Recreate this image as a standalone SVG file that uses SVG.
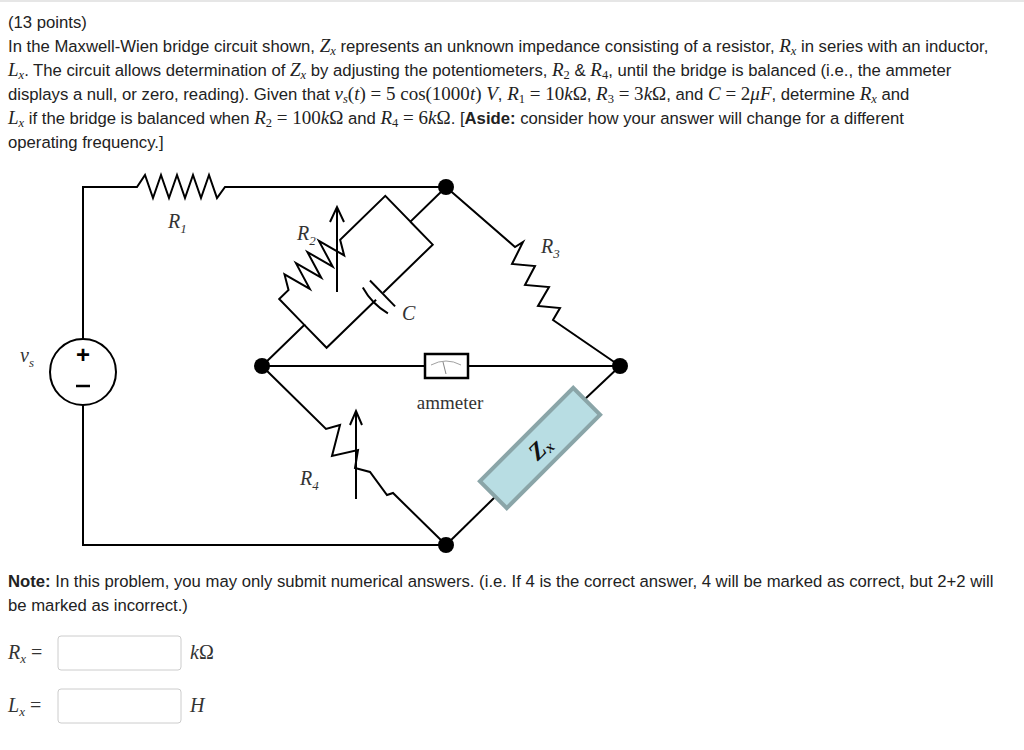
<svg xmlns="http://www.w3.org/2000/svg" width="1024" height="750" viewBox="0 0 1024 750">
<style>
.t{font-family:"Liberation Sans",Arial,sans-serif;font-size:16.7px;fill:#222}
.m{font-family:"Liberation Serif","Times New Roman",serif;font-style:italic;font-size:19px}
.r{font-family:"Liberation Serif","Times New Roman",serif;font-size:19px}
.s{font-size:12.5px}
.w{fill:none;stroke:#000;stroke-width:2}
.lbl{font-family:"Liberation Serif","Times New Roman",serif;font-style:italic;font-size:20px;fill:#333}
.box{fill:#fff;stroke:#ccc;stroke-width:1}
</style>
<rect width="1024" height="750" fill="#fff"/>
<rect x="0" y="0" width="1024" height="2" fill="#e6e6e6"/>
<g id="text">
<text class="t" x="8" y="28">(13 points)</text>
<text class="t" x="8" y="52">In the Maxwell-Wien bridge circuit shown, <tspan class="m">Z<tspan class="s" dy="3">x</tspan></tspan><tspan dy="-3"> represents an unknown impedance consisting of a resistor, </tspan><tspan class="m">R<tspan class="s" dy="3">x</tspan></tspan><tspan dy="-3"> in series with an inductor,</tspan></text>
<text class="t" x="8" y="76"><tspan class="m">L<tspan class="s" dy="3">x</tspan></tspan><tspan dy="-3">. The circuit allows determination of </tspan><tspan class="m">Z<tspan class="s" dy="3">x</tspan></tspan><tspan dy="-3"> by adjusting the potentiometers, </tspan><tspan class="m">R</tspan><tspan class="r s" dy="3">2</tspan><tspan dy="-3"> &amp; </tspan><tspan class="m">R</tspan><tspan class="r s" dy="3">4</tspan><tspan dy="-3">, until the bridge is balanced (i.e., the ammeter</tspan></text>
<text class="t" x="8" y="100">displays a null, or zero, reading). Given that <tspan class="m">v<tspan class="s" dy="3">s</tspan></tspan><tspan class="r" dy="-3">(<tspan class="m">t</tspan>) = 5 cos(1000<tspan class="m">t</tspan>) <tspan class="m">V</tspan></tspan>, <tspan class="m">R</tspan><tspan class="r s" dy="3">1</tspan><tspan class="r" dy="-3"> = 10<tspan class="m">k</tspan>Ω</tspan>, <tspan class="m">R</tspan><tspan class="r s" dy="3">3</tspan><tspan class="r" dy="-3"> = 3<tspan class="m">k</tspan>Ω</tspan>, and <tspan class="m">C</tspan><tspan class="r"> = 2<tspan class="m">μF</tspan></tspan>, determine <tspan class="m">R<tspan class="s" dy="3">x</tspan></tspan><tspan dy="-3"> and</tspan></text>
<text class="t" x="8" y="124"><tspan class="m">L<tspan class="s" dy="3">x</tspan></tspan><tspan dy="-3"> if the bridge is balanced when </tspan><tspan class="m">R</tspan><tspan class="r s" dy="3">2</tspan><tspan class="r" dy="-3"> = 100<tspan class="m">k</tspan>Ω</tspan> and <tspan class="m">R</tspan><tspan class="r s" dy="3">4</tspan><tspan class="r" dy="-3"> = 6<tspan class="m">k</tspan>Ω</tspan>. [<tspan font-weight="bold">Aside:</tspan> consider how your answer will change for a different</text>
<text class="t" x="8" y="148">operating frequency.]</text>
<text class="t" x="8" y="587"><tspan font-weight="bold">Note:</tspan> In this problem, you may only submit numerical answers. (i.e. If 4 is the correct answer, 4 will be marked as correct, but 2+2 will</text>
<text class="t" x="8" y="611">be marked as incorrect.)</text>
<text x="8" y="659" font-family="Liberation Serif,serif" font-size="20" fill="#333"><tspan font-style="italic">R</tspan><tspan font-style="italic" font-size="13" dy="4">x</tspan><tspan dy="-4"> =</tspan></text>
<rect class="box" x="58" y="636" width="123" height="34" rx="3"/>
<text x="190" y="659" font-family="Liberation Serif,serif" font-size="20" fill="#333"><tspan font-style="italic">k</tspan>Ω</text>
<text x="8" y="712" font-family="Liberation Serif,serif" font-size="20" fill="#333"><tspan font-style="italic">L</tspan><tspan font-style="italic" font-size="13" dy="4">x</tspan><tspan dy="-4"> =</tspan></text>
<rect class="box" x="58" y="689" width="123" height="34" rx="3"/>
<text x="190" y="712" font-family="Liberation Serif,serif" font-style="italic" font-size="20" fill="#333">H</text>
</g>
<g id="circuit">
<g id="connectors">
<polyline class="w" points="130,187 83,187 83,339"/>
<polyline class="w" points="83,405 83,545 446,545"/>
<polyline class="w" points="230,187 446,187"/>
<line class="w" x1="262" y1="366" x2="425" y2="366"/>
<line class="w" x1="468" y1="366" x2="620" y2="366"/>
</g>
<g id="R1">
<polyline class="w" points="130,187 137,187 145,175 153,198 161,175 169,198 177,175 185,198 193,175 201,198 209,175 217,198 225,187 230,187"/>
<text class="lbl" x="168" y="228">R<tspan font-size="13" dy="5">1</tspan></text>
</g>
<g id="vs">
<circle cx="83" cy="372" r="33" fill="#fff" stroke="#000" stroke-width="2"/>
<text x="83" y="363" font-family="Liberation Sans,sans-serif" font-size="24" text-anchor="middle" font-weight="bold">+</text>
<line x1="76" y1="386" x2="90" y2="386" stroke="#000" stroke-width="2.5"/>
<text class="lbl" x="20" y="362">v<tspan font-size="13" dy="5">s</tspan></text>
</g>
<g id="R2C" transform="translate(262,366) rotate(-44.2)">
<polyline class="w" points="0,0 59,0 59,-36 72,-36 80,-50 88,-22 96,-50 104,-22 112,-50 120,-22 128,-50 136,-22 144,-36 207,-36 207,0 256,0"/>
<polyline class="w" points="59,0 59,32 128,32"/>
<polyline class="w" points="138,32 207,32 207,0"/>
<path class="w" d="M127,14 Q122,32 127,50"/>
<line class="w" x1="137" y1="14" x2="137" y2="50"/>
</g>
<text class="lbl" x="402" y="320">C</text>
<g id="R2arrow">
<line class="w" x1="337" y1="292" x2="337" y2="209"/>
<polyline class="w" points="330,222 337,207 344,222"/>
<text class="lbl" x="297" y="240">R<tspan font-size="13" dy="5">2</tspan></text>
</g>
<g id="R3">
<polyline class="w" points="446,187 515,247 523,242 512,264 535,266 525,285 549,287 538,306 560,308 553,320 620,366"/>
<text class="lbl" x="541" y="253">R<tspan font-size="13" dy="5">3</tspan></text>
</g>
<g id="R4">
<polyline class="w" points="262,366 326,429 340,425 332,456 358,450 355,468 370,472 387,495 393,493 446,545"/>
<line class="w" x1="356" y1="499" x2="356" y2="412"/>
<polyline class="w" points="350,425 356,411 362,425"/>
<text class="lbl" x="300" y="485">R<tspan font-size="13" dy="5">4</tspan></text>
</g>
<g id="ammeter">
<rect x="425" y="354" width="43" height="24" fill="#fff" stroke="#000" stroke-width="2.5"/>
<path d="M431,365 Q446,357 461,365" fill="none" stroke="#888" stroke-width="0.8"/>
<line x1="446" y1="374" x2="443" y2="362" stroke="#666" stroke-width="0.8"/>
<text x="450" y="409" font-family="Liberation Serif,serif" font-size="19" fill="#333" text-anchor="middle">ammeter</text>
</g>
<g id="Zx">
<line class="w" x1="620" y1="366" x2="584" y2="400"/>
<line class="w" x1="495" y1="497" x2="446" y2="545"/>
<g transform="translate(540,448) rotate(-45)">
<rect x="-66" y="-19" width="132" height="38" fill="#b8dde3" stroke="#8aa5a8" stroke-width="4"/>
<text x="0" y="8" font-family="Liberation Serif,serif" font-weight="bold" font-style="italic" font-size="24" fill="#111" text-anchor="middle">Z<tspan font-size="15" dy="3">x</tspan></text>
</g>
</g>
<g id="nodes" fill="#000">
<circle cx="446" cy="187" r="8"/>
<circle cx="262" cy="366" r="8"/>
<circle cx="620" cy="366" r="8"/>
<circle cx="446" cy="545" r="8"/>
</g>
</g>
</svg>
